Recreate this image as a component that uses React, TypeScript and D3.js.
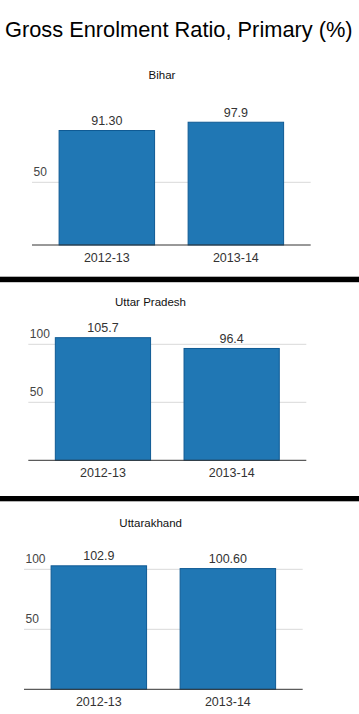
import React from "react";
import * as d3 from "d3";

const chartTitle = "Gross Enrolment Ratio, Primary (%)";
const years = ["2012-13", "2013-14"];
const states = ["Bihar", "Uttar Pradesh", "Uttarakhand"];
const biharValues = [91.3, 97.9];
const upValues = [105.7, 96.4];
const ukValues = [102.9, 100.6];
const biharLabels = ["91.30", "97.9"];
const upLabels = ["105.7", "96.4"];
const ukLabels = ["102.9", "100.60"];
const biharTicks = [50];
const upTicks = [50, 100];
const ukTicks = [50, 100];

type Panel = {
  name: string;
  values: number[];
  labels: string[];
  ticks: number[];
  left: number;
  right: number;
  base: number;
  pxPer50: number;
  titleY: number;
  titleX: number;
};

const panels: Panel[] = [
  { name: states[0], values: biharValues, labels: biharLabels, ticks: biharTicks, left: 32, right: 310.7, base: 245, pxPer50: 62.7, titleY: 79, titleX: 162 },
  { name: states[1], values: upValues, labels: upLabels, ticks: upTicks, left: 28.3, right: 306.3, base: 460.3, pxPer50: 58, titleY: 305.7, titleX: 150.5 },
  { name: states[2], values: ukValues, labels: ukLabels, ticks: ukTicks, left: 24, right: 302.7, base: 689.3, pxPer50: 60, titleY: 526.7, titleX: 150.7 },
];

const FONT = "'Liberation Sans', Arial, sans-serif";

function PanelChart({ p }: { p: Panel }) {
  const x = d3.scaleBand<string>().domain(years).range([p.left, p.right]).paddingInner(0.26).paddingOuter(0.21);
  const y = d3.scaleLinear().domain([0, 50]).range([p.base, p.base - p.pxPer50]);
  return (
    <g>
      <text x={p.titleX} y={p.titleY} textAnchor="middle" fontSize={11.5} fill="#111" fontFamily={FONT}>
        {p.name}
      </text>
      {p.ticks.map((t) => (
        <g key={t}>
          <line x1={p.left} x2={p.right} y1={y(t)} y2={y(t)} stroke="#d9d9d9" strokeWidth={1} />
          <text x={p.left + 1.5} y={y(t) - 6} fontSize={12} fill="#444" fontFamily={FONT}>
            {t}
          </text>
        </g>
      ))}
      {p.values.map((v, i) => (
        <g key={i}>
          <rect
            x={x(years[i])!}
            y={y(v)}
            width={x.bandwidth()}
            height={p.base - y(v)}
            fill="#2077b4"
            stroke="#0f5a94"
            strokeWidth={1}
          />
          <text
            x={x(years[i])! + x.bandwidth() / 2}
            y={y(v) - 5.5}
            textAnchor="middle"
            fontSize={12.5}
            fill="#333"
            fontFamily={FONT}
          >
            {p.labels[i]}
          </text>
          <text
            x={x(years[i])! + x.bandwidth() / 2}
            y={p.base + 16.5}
            textAnchor="middle"
            fontSize={12.5}
            fill="#333"
            fontFamily={FONT}
          >
            {years[i]}
          </text>
        </g>
      ))}
      <line x1={p.left} x2={p.right} y1={p.base} y2={p.base} stroke="#333" strokeWidth={1} />
    </g>
  );
}

export default function App() {
  return (
    <svg
      width={359}
      height={714}
      style={{ position: "absolute", left: 0, top: 0, background: "#fff" }}
    >
      <rect x={0} y={0} width={359} height={714} fill="#fff" />
      <text x={5} y={37} fontSize={21.8} fill="#000" fontFamily={FONT}>
        {chartTitle}
      </text>
      <rect x={0} y={276.7} width={359} height={5.5} fill="#000" />
      <rect x={0} y={496} width={359} height={5.3} fill="#000" />
      {panels.map((p) => (
        <PanelChart key={p.name} p={p} />
      ))}
    </svg>
  );
}
